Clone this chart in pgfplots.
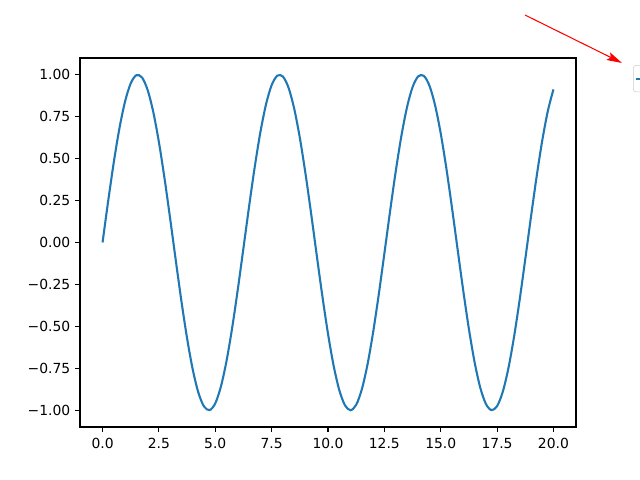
\documentclass[border=0pt]{standalone}
\usepackage{fontspec}
\setmainfont{DejaVu Sans}
\usepackage{pgfplots}
\pgfplotsset{compat=1.18}
\usetikzlibrary{arrows.meta}
\definecolor{mplblue}{HTML}{1F77B4}
\definecolor{framegray}{HTML}{CCCCCC}

\begin{document}
\begin{tikzpicture}
% figure area: 640x480 px, 1px = 0.72pt, axis origin at px (80,427)
\useasboundingbox (-57.6pt,-38.16pt) rectangle (403.2pt,307.44pt);
\begin{axis}[
    scale only axis,
    width=357.12pt,
    height=265.68pt,
    at={(0,0)}, anchor=south west,
    xmin=-1, xmax=21,
    ymin=-1.1, ymax=1.1,
    xtick={0,2.5,5,7.5,10,12.5,15,17.5,20},
    xticklabels={0.0,2.5,5.0,7.5,10.0,12.5,15.0,17.5,20.0},
    ytick={-1,-0.75,-0.5,-0.25,0,0.25,0.5,0.75,1},
    yticklabels={−1.00,−0.75,−0.50,−0.25,0.00,0.25,0.50,0.75,1.00},
    tick pos=left,
    tick align=outside,
    major tick length=3.5pt,
    every tick/.style={black, line width=0.8pt},
    axis line style={line width=0.8pt},
    tick label style={font=\fontsize{10}{12}\selectfont},
    xticklabel style={yshift=-1pt},
    clip=false,
    legend style={at={(1.115,0.981)}, anchor=north west,
        draw=framegray, rounded corners=2pt, fill=white,
        inner xsep=1pt, inner ysep=3pt,
        nodes={inner xsep=1.5pt},
        font=\fontsize{10}{12}\selectfont},
    legend image post style={line width=1.5pt},
    legend cell align=left,
]
\addplot[mplblue, line width=1.5pt, smooth] coordinates {
(0,0) (0.25,0.2474) (0.5,0.4794) (0.75,0.6816) (1,0.8415) (1.25,0.9490)
(1.5,0.9975) (1.75,0.9840) (2,0.9093) (2.25,0.7781) (2.5,0.5985) (2.75,0.3817)
(3,0.1411) (3.25,-0.1082) (3.5,-0.3508) (3.75,-0.5716) (4,-0.7568) (4.25,-0.8950)
(4.5,-0.9775) (4.75,-0.9993) (5,-0.9589) (5.25,-0.8589) (5.5,-0.7055) (5.75,-0.5083)
(6,-0.2794) (6.25,-0.0332) (6.5,0.2151) (6.75,0.4500) (7,0.6570) (7.25,0.8231)
(7.5,0.9380) (7.75,0.9946) (8,0.9894) (8.25,0.9228) (8.5,0.7985) (8.75,0.6247)
(9,0.4121) (9.25,0.1739) (9.5,-0.0752) (9.75,-0.3195) (10,-0.5440) (10.25,-0.7349)
(10.5,-0.8797) (10.75,-0.9700) (11,-1.0000) (11.25,-0.9678) (11.5,-0.8755) (11.75,-0.7287)
(12,-0.5366) (12.25,-0.3111) (12.5,-0.0663) (12.75,0.1826) (13,0.4202) (13.25,0.6316)
(13.5,0.8037) (13.75,0.9260) (14,0.9906) (14.25,0.9936) (14.5,0.9349) (14.75,0.8181)
(15,0.6503) (15.25,0.4422) (15.5,0.2065) (15.75,-0.0420) (16,-0.2879) (16.25,-0.5158)
(16.5,-0.7118) (16.75,-0.8637) (17,-0.9614) (17.25,-0.9996) (17.5,-0.9756) (17.75,-0.8910)
(18,-0.7510) (18.25,-0.5643) (18.5,-0.3425) (18.75,-0.0994) (19,0.1499) (19.25,0.3898)
(19.5,0.6055) (19.75,0.7836) (20,0.9129)
};
\addlegendentry{sin(x)}
\end{axis}
% red annotation arrow, px (525,15) -> (622,63)
\draw[red, line width=0.75pt, -{Stealth[length=11pt, width=6pt, inset=2pt]}]
    (320.4pt,296.64pt) -- (390.24pt,262.08pt);
\end{tikzpicture}
\end{document}
